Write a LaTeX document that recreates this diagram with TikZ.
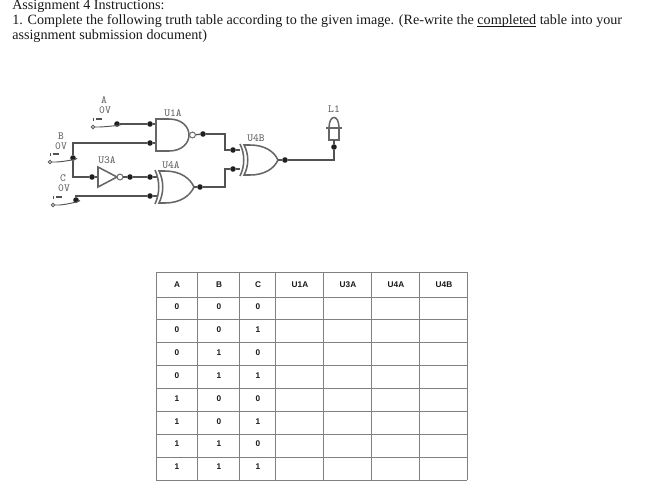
\documentclass[tikz,border=0pt]{standalone}
\usepackage{fontspec}
\setmainfont{Liberation Serif}
\setsansfont{Liberation Sans}
\begin{document}
\begin{tikzpicture}[x=0.75pt,y=-0.75pt,
  wire/.style={draw=black!68,line width=1pt},
  gate/.style={draw=black!60,line width=1.15pt,fill=white},
  pin/.style={circle,fill=black!88,draw=none,inner sep=0pt,minimum size=4.2pt},
  term/.style={circle,draw=black!65,fill=white,line width=0.6pt,inner sep=0pt,minimum size=2.6pt},
  bubble/.style={circle,draw=black!55,fill=white,line width=0.8pt,inner sep=0pt,minimum size=4.4pt},
  para/.style={anchor=base west,inner sep=0pt,font=\fontsize{10.6}{13}\selectfont,text=black!90},
  lab/.style={inner sep=0pt,font=\ttfamily\fontsize{8.2}{10}\selectfont,text=black!60},
  cell/.style={inner sep=0pt,font=\sffamily\bfseries\fontsize{6.2}{7}\selectfont,text=black!90},
  grid/.style={draw=black!50,line width=0.55pt}]
\useasboundingbox (0,0) rectangle (646,486);
\clip (0,0) rectangle (646,486);
\fill[white] (0,0) rectangle (646,486);
% text
\node[para] (t1) at (12,9.5) {Assignment 4 Instructions:};
\node[para] (t2) at (12,24) {1.  Complete the following truth table according to the given image. (Re-write the \underline{\smash{completed}} table into your};
\node[para] (t3) at (12,39) {assignment submission document)};
% pins
\foreach \n/\x/\y in {pa/117/124,pa2/150/124,pb1/150/143,pb/73/158,pb2/92/177,pi/130/177,pi2/150/177,pc/76/200,pc2/150/196,
  pu1/203/134,pu3/200/187,px1/233/150,px2/233/169,po/285/160,pl/334/147}
  \node[pin] (\n) at (\x,\y) {};
\coordinate (j1) at (73,143);
\coordinate (j2) at (73,177);
\coordinate (j3) at (76,196);
\coordinate (k1) at (225,134);
\coordinate (k2) at (225,150);
\coordinate (k3) at (225,187);
\coordinate (k4) at (225,169);
\coordinate (m1) at (334,160);
% wires
\draw[wire] (pa) -- (pa2);
\draw[wire] (pb) -- (j1) -- (pb1);
\draw[wire] (pb) -- (j2) -- (pb2);
\draw[wire] (pc) -- (j3) -- (pc2);
\draw[wire] (pu1) -- (k1) -- (k2) -- (px1);
\draw[wire] (pu3) -- (k3) -- (k4) -- (px2);
\draw[wire] (po) -- (m1) -- (pl);
% switches
\foreach \n/\x/\y/\d in {sa/93/127/pa,sb/50/162/pb,sc/53/205/pc}{
  \node[term] (\n) at (\x,\y) {};
  \draw[wire,line width=0.7pt] (\n) -- ++(6,0) .. controls +(5,0) and +(7,1) .. (\d);
  \draw[wire,line width=0.7pt] (\x,\y-6) -- ++(0,-3);
  \draw[wire,line width=0.8pt] (\x+3,\y-8) -- ++(6,0);
}
% AND U1A
\draw[wire] (pa2) -- (156,124) (pb1) -- (156,143);
\draw[gate] (156,119) -- (169,119) .. controls (182,119) and (189,127) .. (189,135)
  .. controls (189,143) and (182,151) .. (169,151) -- (156,151) -- cycle;
\node[bubble] (bu1) at (192.5,135) {};
\draw[wire] (bu1) -- (pu1);
% inverter
\draw[wire] (pb2) -- (98,177);
\draw[gate] (98,167) -- (117,177) -- (98,187) -- cycle;
\node[bubble] (bu3) at (120,177) {};
\draw[wire] (bu3) -- (pi);
\draw[wire] (pi) -- (pi2);
% XOR U4A
\draw[wire] (pi2) -- (157,177) (pc2) -- (157,196);
\draw[gate] (159,171) -- (165,171) .. controls (180,171) and (190,178) .. (194,187)
  .. controls (190,196) and (180,203) .. (165,203) -- (159,203)
  .. controls (164,193) and (164,181) .. (159,171) -- cycle;
\draw[gate,fill=none] (155,170) .. controls (160,181) and (160,193) .. (155,204);
\draw[wire] (194,187) -- (pu3);
% XOR U4B
\draw[wire] (px1) -- (240,150) (px2) -- (240,169);
\draw[gate] (244,145) -- (250,145) .. controls (264,145) and (274,151) .. (278,160)
  .. controls (274,169) and (264,175) .. (250,175) -- (244,175)
  .. controls (249,166) and (249,154) .. (244,145) -- cycle;
\draw[gate,fill=none] (240,144) .. controls (245,154) and (245,166) .. (240,176);
\draw[wire] (278,160) -- (po);
% lamp
\draw[gate] (329,128) rectangle (339,140);
\draw[gate,fill=none] (329,128) .. controls (329,114) and (339,114) .. (339,128);
\draw[gate] (326,128) -- (342,128);
\draw[wire] (334,140) -- (pl);
% labels
\node[lab] (la) at (104,100) {A};
\node[lab] (la2) at (105,110) {0V};
\node[lab] (lb) at (61,136) {B};
\node[lab] (lb2) at (61,146.5) {0V};
\node[lab] (lc) at (63,178) {C};
\node[lab] (lc2) at (64,188.5) {0V};
\node[lab] (lu1) at (173,113) {U1A};
\node[lab] (lu3) at (107,160) {U3A};
\node[lab] (lu4) at (171,165) {U4A};
\node[lab] (lu4b) at (256,138) {U4B};
\node[lab] (ll) at (334,109) {L1};
% table
\foreach \x in {156,197,239,275,323,371,419,467} \draw[grid] (\x,272) -- (\x,480);
\foreach \y in {272,297,319,342,365,388,411,434,457,480} \draw[grid] (156,\y) -- (467,\y);
\foreach \t/\x in {A/177,B/219,C/258,U1A/300,U3A/348,U4A/396,U4B/444}
  \node[cell] (h\t) at (\x,285) {\t};
\foreach \a/\b/\c/\y in {0/0/0/307,0/0/1/330,0/1/0/353,0/1/1/376,1/0/0/399,1/0/1/422,1/1/0/444,1/1/1/467}{
  \node[cell] (ra\y) at (177,\y) {\a};
  \node[cell] (rb\y) at (219,\y) {\b};
  \node[cell] (rc\y) at (258,\y) {\c};
}
\end{tikzpicture}
\end{document}
